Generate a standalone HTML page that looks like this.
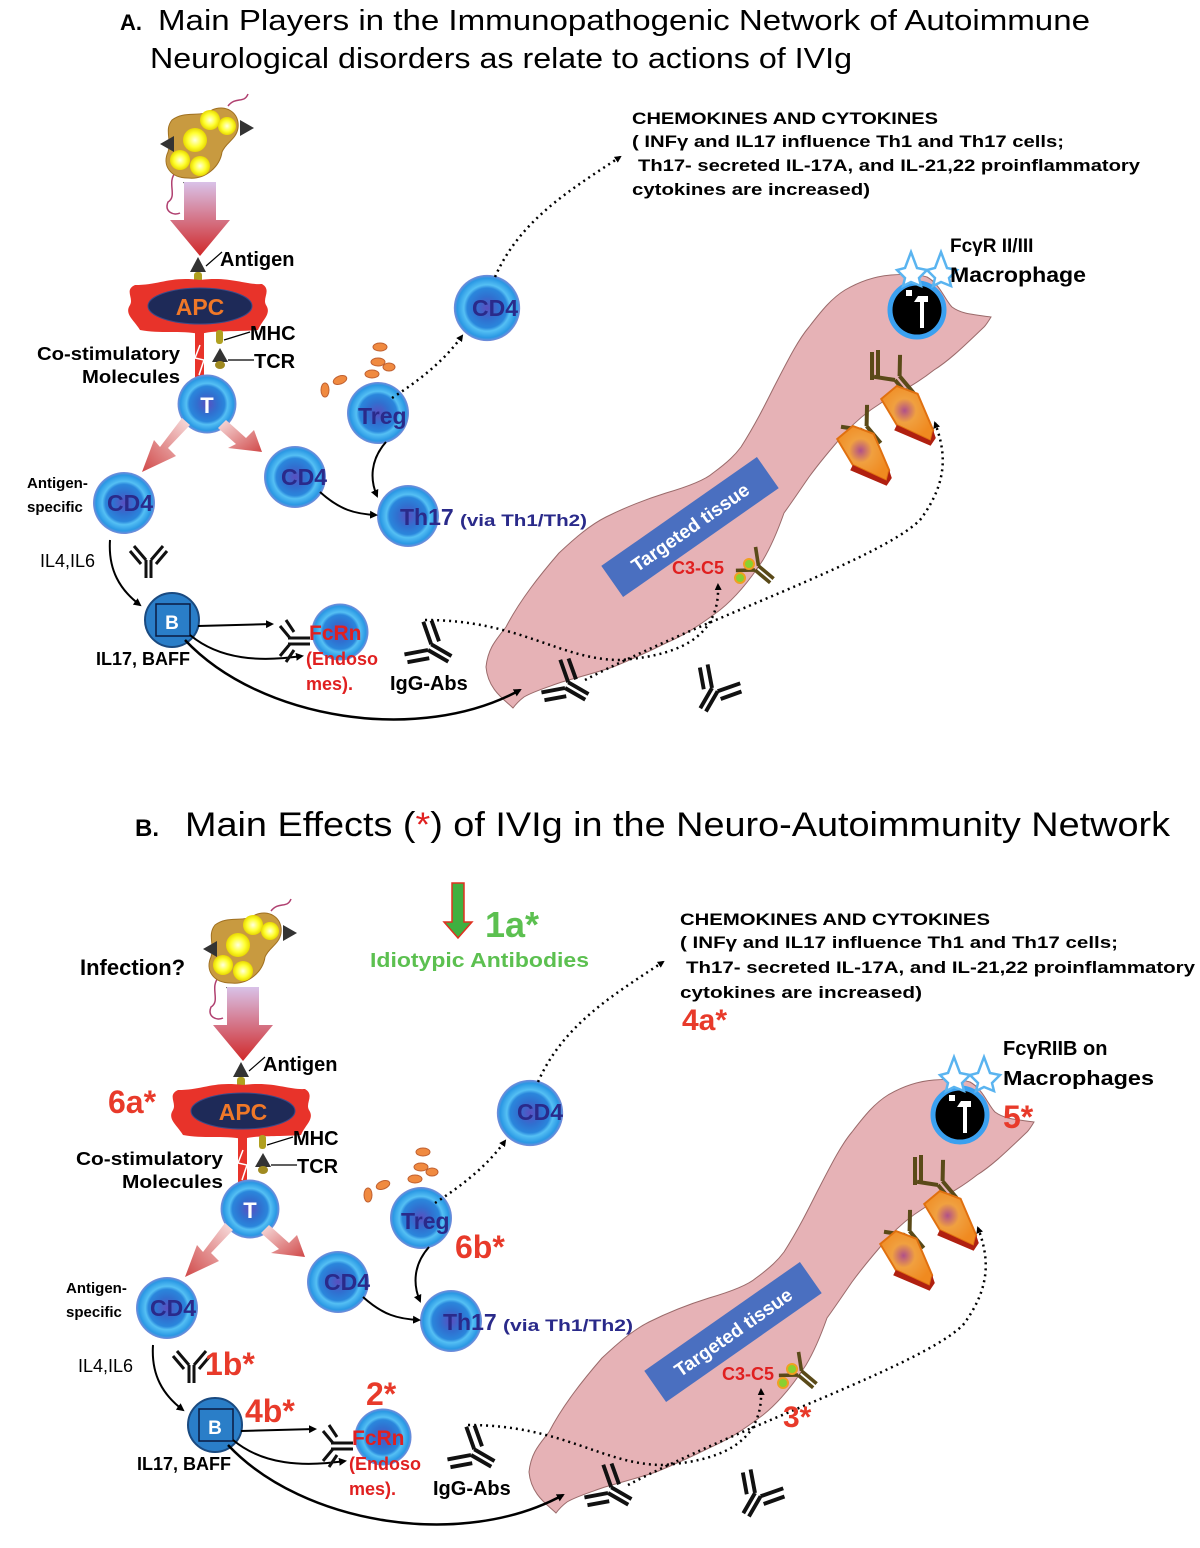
<!DOCTYPE html>
<html><head><meta charset="utf-8">
<style>
html,body{margin:0;padding:0;background:#fff;}
svg{display:block;font-family:"Liberation Sans",sans-serif;}
.b{font-weight:bold;}
</style></head>
<body>
<svg width="1200" height="1548" viewBox="0 0 1200 1548" xmlns="http://www.w3.org/2000/svg">
<defs>
  <radialGradient id="cellG" cx="50%" cy="50%" r="50%">
    <stop offset="0%" stop-color="#5a4fc0"/>
    <stop offset="35%" stop-color="#3070d0"/>
    <stop offset="60%" stop-color="#2a86dc"/>
    <stop offset="70%" stop-color="#55c0f4"/>
    <stop offset="90%" stop-color="#2a98e4"/>
    <stop offset="100%" stop-color="#7a8ad8"/>
  </radialGradient>
  <linearGradient id="bigArrow" x1="0" y1="0" x2="0" y2="1">
    <stop offset="0%" stop-color="#d9c2e8"/>
    <stop offset="100%" stop-color="#d02828"/>
  </linearGradient>
  <linearGradient id="pinkL" x1="1" y1="0" x2="0" y2="1">
    <stop offset="0%" stop-color="#f8e0e0"/>
    <stop offset="100%" stop-color="#d04848"/>
  </linearGradient>
  <linearGradient id="pinkR" x1="0" y1="0" x2="1" y2="1">
    <stop offset="0%" stop-color="#f8e0e0"/>
    <stop offset="100%" stop-color="#d04848"/>
  </linearGradient>
  <radialGradient id="hexG" cx="45%" cy="45%" r="55%">
    <stop offset="0%" stop-color="#b0508a"/>
    <stop offset="40%" stop-color="#f0a040"/>
    <stop offset="100%" stop-color="#f08a20"/>
  </radialGradient>
  <radialGradient id="yel" cx="50%" cy="50%" r="50%">
    <stop offset="0%" stop-color="#ffffe0"/>
    <stop offset="60%" stop-color="#ffff30"/>
    <stop offset="100%" stop-color="#e8d800"/>
  </radialGradient>
  <marker id="ah" markerWidth="8" markerHeight="8" refX="6" refY="4" orient="auto" markerUnits="userSpaceOnUse">
    <path d="M0,0 L8,4 L0,8 z" fill="#000"/>
  </marker>
  <marker id="ahs" markerWidth="7" markerHeight="7" refX="5" refY="3.5" orient="auto" markerUnits="userSpaceOnUse">
    <path d="M0,0 L7,3.5 L0,7 z" fill="#000"/>
  </marker>
  <g id="cell"><circle r="31" fill="url(#cellG)"/></g>
  <g id="ab" fill="none" stroke="#111" stroke-width="3">
    <path d="M0,0 L0,18 M5,0 L5,18 M0,0 L-12,-14 M-5,4 L-16,-9 M5,0 L17,-14 M10,4 L21,-9"/>
  </g>
  <g id="abO" fill="none" stroke="#5a4a18" stroke-width="4">
    <path d="M0,0 L0,22 M6,0 L6,22 M0,0 L-14,-16 M6,0 L20,-16"/>
  </g>
  <g id="hex">
    <polygon points="-16,-10 -4,-20 12,-14 24,14 22,22 -4,10" fill="url(#hexG)" stroke="#e07010" stroke-width="1.5"/>
    <polygon points="-4,10 22,22 24,14 26,20 22,26 -6,14" fill="#b02010"/>
  </g>
  <g id="panel">
    <path d="M513,708 C505,700 488,690 486,667 C488,648 496,640 506,627 C520,600 540,575 559,553 C575,538 590,525 606,517 C630,505 650,498 666,493 C690,486 705,480 713,473 C728,462 735,455 741,447 C755,425 765,405 774,387 C788,360 798,340 809,327 C822,310 832,298 845,290 C862,280 878,276 891,275 C905,274 918,274 927,277 C940,284 945,300 952,307 C960,313 968,314 991,317 C988,322 986,325 984,327 C965,345 950,360 934,370 C915,385 898,393 881,403 C865,413 855,422 845,433 C830,450 820,462 809,477 C800,490 792,502 784,513 C778,530 772,545 763,560 C750,580 735,598 720,610 C700,625 685,635 666,643 C648,652 630,660 613,667 C595,673 575,678 559,683 C545,688 532,692 524,697 C520,700 516,704 513,708 Z" fill="#e6b2b6" stroke="#9a6a6a" stroke-width="1"/>
    <g transform="translate(690,527) rotate(-35)">
      <rect x="-95" y="-19" width="190" height="38" fill="#4a6fc0"/>
      <text x="0" y="7" text-anchor="middle" fill="#fff" font-size="19" class="b">Targeted tissue</text>
    </g>
    <path d="M228,106 C236,96 244,104 248,94" stroke="#b04070" stroke-width="1.5" fill="none"/>
    <path d="M176,172 C166,182 178,196 168,202 C164,212 174,216 180,213" stroke="#b04070" stroke-width="1.5" fill="none"/>
    <path d="M172,120 C185,110 200,118 212,110 C225,104 240,112 238,128 C236,140 226,142 222,152 C220,166 206,180 188,178 C170,178 162,165 168,152 C172,140 164,130 172,120 Z" fill="#c89a40" stroke="#a07020"/>
    <circle cx="210" cy="120" r="10" fill="url(#yel)"/><circle cx="227" cy="126" r="9" fill="url(#yel)"/>
    <circle cx="195" cy="140" r="12" fill="url(#yel)"/><circle cx="180" cy="160" r="10" fill="url(#yel)"/>
    <circle cx="200" cy="166" r="10" fill="url(#yel)"/>
    <polygon points="174,136 160,144 174,152" fill="#333"/>
    <polygon points="240,120 254,128 240,136" fill="#333"/>
    <polygon points="183,182 199,182 191,194" fill="#333"/>
    <polygon points="184,182 216,182 216,220 230,220 200,256 170,220 184,220" fill="url(#bigArrow)"/>
    <polygon points="198,257 190,272 206,272" fill="#333"/>
    <rect x="194" y="272" width="8" height="12" rx="3" fill="#b0a020"/>
    <line x1="206" y1="266" x2="222" y2="252" stroke="#000" stroke-width="1.2"/>
    <path d="M135,285 C160,285 170,276 200,280 C230,276 245,285 262,284 C272,290 262,298 266,305 C272,314 262,320 258,330 C230,332 215,330 200,334 C180,330 160,334 140,330 C134,320 124,314 130,305 C134,298 124,290 135,285 Z" fill="#e8332a"/>
    <ellipse cx="200" cy="306" rx="52" ry="18" fill="#1e2a58" stroke="#3a4a88"/>
    <text x="200" y="315" text-anchor="middle" fill="#f07828" font-size="23" class="b">APC</text>
    <rect x="195" y="330" width="9" height="48" fill="#e8332a"/>
    <polyline points="200,345 195,358 204,360 199,375" stroke="#fff" stroke-width="1.5" fill="none"/>
    <rect x="216" y="330" width="7" height="14" rx="3" fill="#b0a020"/>
    <line x1="224" y1="340" x2="250" y2="332" stroke="#000" stroke-width="1.2"/>
    <polygon points="220,348 212,362 228,362" fill="#333"/>
    <ellipse cx="220" cy="365" rx="5" ry="4" fill="#a08a20"/>
    <line x1="228" y1="360" x2="254" y2="360" stroke="#000" stroke-width="1.2"/>
    <use href="#cell" transform="translate(207,404) scale(0.95)"/>
    <text x="207" y="413" text-anchor="middle" fill="#fff" font-size="22" class="b">T</text>
    <polygon points="190,425 168,448 176,456 142,472 154,440 160,447 182,418" fill="url(#pinkL)"/>
    <polygon points="226,420 246,438 254,430 262,452 228,448 236,444 218,428" fill="url(#pinkR)"/>
    <use href="#cell" transform="translate(124,503)"/>
    <use href="#cell" transform="translate(295,477)"/>
    <use href="#cell" transform="translate(408,516)"/>
    <use href="#cell" transform="translate(378,413)"/>
    <use href="#cell" transform="translate(487,308) scale(1.07)"/>
    <g fill="#f08a40" stroke="#c06030" stroke-width="1">
      <ellipse cx="380" cy="347" rx="7" ry="4"/><ellipse cx="378" cy="362" rx="7" ry="4"/>
      <ellipse cx="389" cy="367" rx="6" ry="4"/><ellipse cx="372" cy="374" rx="7" ry="4"/>
      <ellipse cx="340" cy="380" rx="7" ry="4" transform="rotate(-20 340 380)"/>
      <ellipse cx="325" cy="390" rx="4" ry="7"/>
    </g>
    <path d="M320,492 C340,510 355,514 376,515" stroke="#000" stroke-width="2" fill="none" marker-end="url(#ah)"/>
    <path d="M386,442 C370,460 370,480 377,496" stroke="#000" stroke-width="2" fill="none" marker-end="url(#ah)"/>
    <path d="M392,398 C420,380 445,360 462,336" stroke="#000" stroke-width="2.5" stroke-dasharray="2,4" fill="none" marker-end="url(#ahs)"/>
    <path d="M495,277 C520,220 570,190 620,157" stroke="#000" stroke-width="2.5" stroke-dasharray="2,4" fill="none" marker-end="url(#ahs)"/>
    <path d="M110,540 C108,570 120,590 140,605" stroke="#000" stroke-width="2" fill="none" marker-end="url(#ah)"/>
    <use href="#ab" transform="translate(146,560)"/>
    <circle cx="172" cy="620" r="27" fill="#2a7ec8" stroke="#1a4a80" stroke-width="2"/>
    <rect x="156" y="604" width="34" height="32" fill="none" stroke="#0a1a40" stroke-width="1.5"/>
    <text x="172" y="629" text-anchor="middle" fill="#fff" font-size="19" class="b">B</text>
    <path d="M198,626 L272,624" stroke="#000" stroke-width="2" fill="none" marker-end="url(#ah)"/>
    <path d="M190,635 C220,660 260,662 302,656" stroke="#000" stroke-width="2" fill="none" marker-end="url(#ah)"/>
    <path d="M185,640 C260,720 420,745 520,690" stroke="#000" stroke-width="2.5" fill="none" marker-end="url(#ah)"/>
    <use href="#cell" transform="translate(340,632) scale(0.92)"/>
    <g fill="none" stroke="#111" stroke-width="3">
      <path d="M310,638 L288,638 M310,644 L288,644 M290,638 L280,626 M294,632 L286,620 M290,644 L280,656 M294,650 L286,662"/>
    </g>
    <use href="#ab" transform="translate(428,650) rotate(-60) scale(1.3)"/>
    <use href="#ab" transform="translate(565,688) rotate(-60) scale(1.3)"/>
    <use href="#ab" transform="translate(712,688) rotate(30) scale(1.3)"/>
    <path d="M425,620 C520,620 560,660 620,660 C690,655 720,630 718,585" stroke="#000" stroke-width="2.5" stroke-dasharray="2,4" fill="none" marker-end="url(#ahs)"/>
    <path d="M585,680 C700,620 880,560 920,520 C950,480 945,450 935,423" stroke="#000" stroke-width="2.5" stroke-dasharray="2,4" fill="none" marker-end="url(#ahs)"/>
    <use href="#abO" transform="translate(755,570) rotate(-50) scale(0.9)"/>
    <circle cx="749" cy="564" r="5" fill="#8ad030" stroke="#f0a020" stroke-width="2"/>
    <circle cx="740" cy="578" r="5" fill="#8ad030" stroke="#f0a020" stroke-width="2"/>
    <use href="#abO" transform="translate(862,430) rotate(-40)"/>
    <use href="#abO" transform="translate(895,380) rotate(-40)"/>
    <path d="M872,352 L872,380 M878,350 L878,376" stroke="#5a4a18" stroke-width="4"/>
    <use href="#hex" transform="translate(858,452) scale(1.3)"/>
    <use href="#hex" transform="translate(902,412) scale(1.3)"/>
    <circle cx="917" cy="310" r="27" fill="#000" stroke="#3aa0f0" stroke-width="5"/>
    <path d="M918,296 h10 v6 h-4 v26 h-4 v-26 h-6 z" fill="#fff"/>
    <path d="M906,290 l6,0 l0,6 l-6,0 z" fill="#fff"/>
    <path d="M905,268 l6,-16 l6,16 l10,2 l-8,8 l2,8 l-10,-4 l-8,4 l2,-8 l-8,-8 z" fill="#fff" stroke="#5ab4f0" stroke-width="2.5"/>
    <path d="M935,268 l6,-16 l6,16 l10,2 l-8,8 l2,8 l-10,-4 l-8,4 l2,-8 l-8,-8 z" fill="#fff" stroke="#5ab4f0" stroke-width="2.5"/>
  </g>
</defs>

<text x="120" y="30" font-size="22" class="b">A.</text>
<text x="158" y="30" font-size="29" textLength="932" lengthAdjust="spacingAndGlyphs">Main Players in the Immunopathogenic Network of Autoimmune</text>
<text x="150" y="68" font-size="29" textLength="702" lengthAdjust="spacingAndGlyphs">Neurological disorders as relate to actions of IVIg</text>

<use href="#panel"/>
<g class="b" font-size="17">
  <text x="632" y="124" textLength="306" lengthAdjust="spacingAndGlyphs">CHEMOKINES AND CYTOKINES</text>
  <text x="632" y="147" textLength="432" lengthAdjust="spacingAndGlyphs">( INFγ and IL17 influence Th1 and Th17 cells;</text>
  <text x="638" y="171" textLength="502" lengthAdjust="spacingAndGlyphs">Th17- secreted IL-17A, and IL-21,22 proinflammatory</text>
  <text x="632" y="195" textLength="238" lengthAdjust="spacingAndGlyphs">cytokines are increased)</text>
</g>
<text x="220" y="266" font-size="20" class="b">Antigen</text>
<text x="250" y="340" font-size="20" class="b">MHC</text>
<text x="254" y="368" font-size="20" class="b">TCR</text>
<text x="37" y="360" font-size="18" class="b" textLength="143" lengthAdjust="spacingAndGlyphs">Co-stimulatory</text>
<text x="82" y="383" font-size="18" class="b" textLength="98" lengthAdjust="spacingAndGlyphs">Molecules</text>
<text x="27" y="488" font-size="15" class="b">Antigen-</text>
<text x="27" y="512" font-size="15" class="b">specific</text>
<text x="107" y="511" font-size="23" class="b" fill="#2a2a8a">CD4</text>
<text x="281" y="485" font-size="23" class="b" fill="#2a2a8a">CD4</text>
<text x="472" y="316" font-size="23" class="b" fill="#2a2a8a">CD4</text>
<text x="358" y="424" font-size="23" class="b" fill="#2a2a8a">Treg</text>
<text x="400" y="525" font-size="23" class="b" fill="#2a2a8a">Th17</text>
<text x="460" y="526" font-size="17" class="b" fill="#2a2a8a" textLength="127" lengthAdjust="spacingAndGlyphs">(via Th1/Th2)</text>
<text x="40" y="567" font-size="18">IL4,IL6</text>
<text x="96" y="665" font-size="18" class="b">IL17, BAFF</text>
<text x="309" y="640" font-size="21" class="b" fill="#e02020">FcRn</text>
<text x="306" y="665" font-size="18" class="b" fill="#e02020">(Endoso</text>
<text x="306" y="690" font-size="18" class="b" fill="#e02020">mes).</text>
<text x="390" y="690" font-size="20" class="b">IgG-Abs</text>
<text x="672" y="574" font-size="18" class="b" fill="#e02020">C3-C5</text>
<text x="950" y="252" font-size="19" class="b">FcγR II/III</text>
<text x="950" y="282" font-size="21" class="b" textLength="136" lengthAdjust="spacingAndGlyphs">Macrophage</text>

<text x="135" y="836" font-size="24" class="b">B.</text>
<text x="185" y="836" font-size="34" textLength="985" lengthAdjust="spacingAndGlyphs">Main Effects (<tspan fill="#e02020">*</tspan>) of IVIg in the Neuro-Autoimmunity Network</text>

<use href="#panel" transform="translate(43,805)"/>
<g class="b" font-size="17">
  <text x="680" y="925" textLength="310" lengthAdjust="spacingAndGlyphs">CHEMOKINES AND CYTOKINES</text>
  <text x="680" y="948" textLength="438" lengthAdjust="spacingAndGlyphs">( INFγ and IL17 influence Th1 and Th17 cells;</text>
  <text x="686" y="973" textLength="509" lengthAdjust="spacingAndGlyphs">Th17- secreted IL-17A, and IL-21,22 proinflammatory</text>
  <text x="680" y="998" textLength="242" lengthAdjust="spacingAndGlyphs">cytokines are increased)</text>
</g>
<text x="80" y="975" font-size="22" class="b">Infection?</text>
<polygon points="452,883 464,883 464,922 472,922 458,938 444,922 452,922" fill="#40b040" stroke="#e03020" stroke-width="1.5"/>
<text x="485" y="937" font-size="36" class="b" fill="#5cc050">1a*</text>
<text x="370" y="967" font-size="20" class="b" fill="#5cc050" textLength="219" lengthAdjust="spacingAndGlyphs">Idiotypic Antibodies</text>
<text x="682" y="1030" font-size="30" class="b" fill="#e83a2a">4a*</text>
<text x="108" y="1113" font-size="32" class="b" fill="#e83a2a">6a*</text>
<text x="455" y="1258" font-size="32" class="b" fill="#e83a2a">6b*</text>
<text x="205" y="1375" font-size="32" class="b" fill="#e83a2a">1b*</text>
<text x="245" y="1422" font-size="32" class="b" fill="#e83a2a">4b*</text>
<text x="366" y="1405" font-size="32" class="b" fill="#e83a2a">2*</text>
<text x="783" y="1427" font-size="30" class="b" fill="#e83a2a">3*</text>
<text x="1003" y="1128" font-size="32" class="b" fill="#e83a2a">5*</text>
<text x="263" y="1071" font-size="20" class="b">Antigen</text>
<text x="293" y="1145" font-size="20" class="b">MHC</text>
<text x="297" y="1173" font-size="20" class="b">TCR</text>
<text x="76" y="1165" font-size="18" class="b" textLength="147" lengthAdjust="spacingAndGlyphs">Co-stimulatory</text>
<text x="122" y="1188" font-size="18" class="b" textLength="101" lengthAdjust="spacingAndGlyphs">Molecules</text>
<text x="66" y="1293" font-size="15" class="b">Antigen-</text>
<text x="66" y="1317" font-size="15" class="b">specific</text>
<text x="150" y="1316" font-size="23" class="b" fill="#2a2a8a">CD4</text>
<text x="324" y="1290" font-size="23" class="b" fill="#2a2a8a">CD4</text>
<text x="517" y="1120" font-size="23" class="b" fill="#2a2a8a">CD4</text>
<text x="401" y="1229" font-size="23" class="b" fill="#2a2a8a">Treg</text>
<text x="443" y="1330" font-size="23" class="b" fill="#2a2a8a">Th17</text>
<text x="503" y="1331" font-size="17" class="b" fill="#2a2a8a" textLength="130" lengthAdjust="spacingAndGlyphs">(via Th1/Th2)</text>
<text x="78" y="1372" font-size="18">IL4,IL6</text>
<text x="137" y="1470" font-size="18" class="b">IL17, BAFF</text>
<text x="352" y="1445" font-size="21" class="b" fill="#e02020">FcRn</text>
<text x="349" y="1470" font-size="18" class="b" fill="#e02020">(Endoso</text>
<text x="349" y="1495" font-size="18" class="b" fill="#e02020">mes).</text>
<text x="433" y="1495" font-size="20" class="b">IgG-Abs</text>
<text x="722" y="1380" font-size="18" class="b" fill="#e02020">C3-C5</text>
<text x="1003" y="1055" font-size="20" class="b">FcγRIIB on</text>
<text x="1003" y="1085" font-size="20" class="b" textLength="151" lengthAdjust="spacingAndGlyphs">Macrophages</text>
</svg>
</body></html>
